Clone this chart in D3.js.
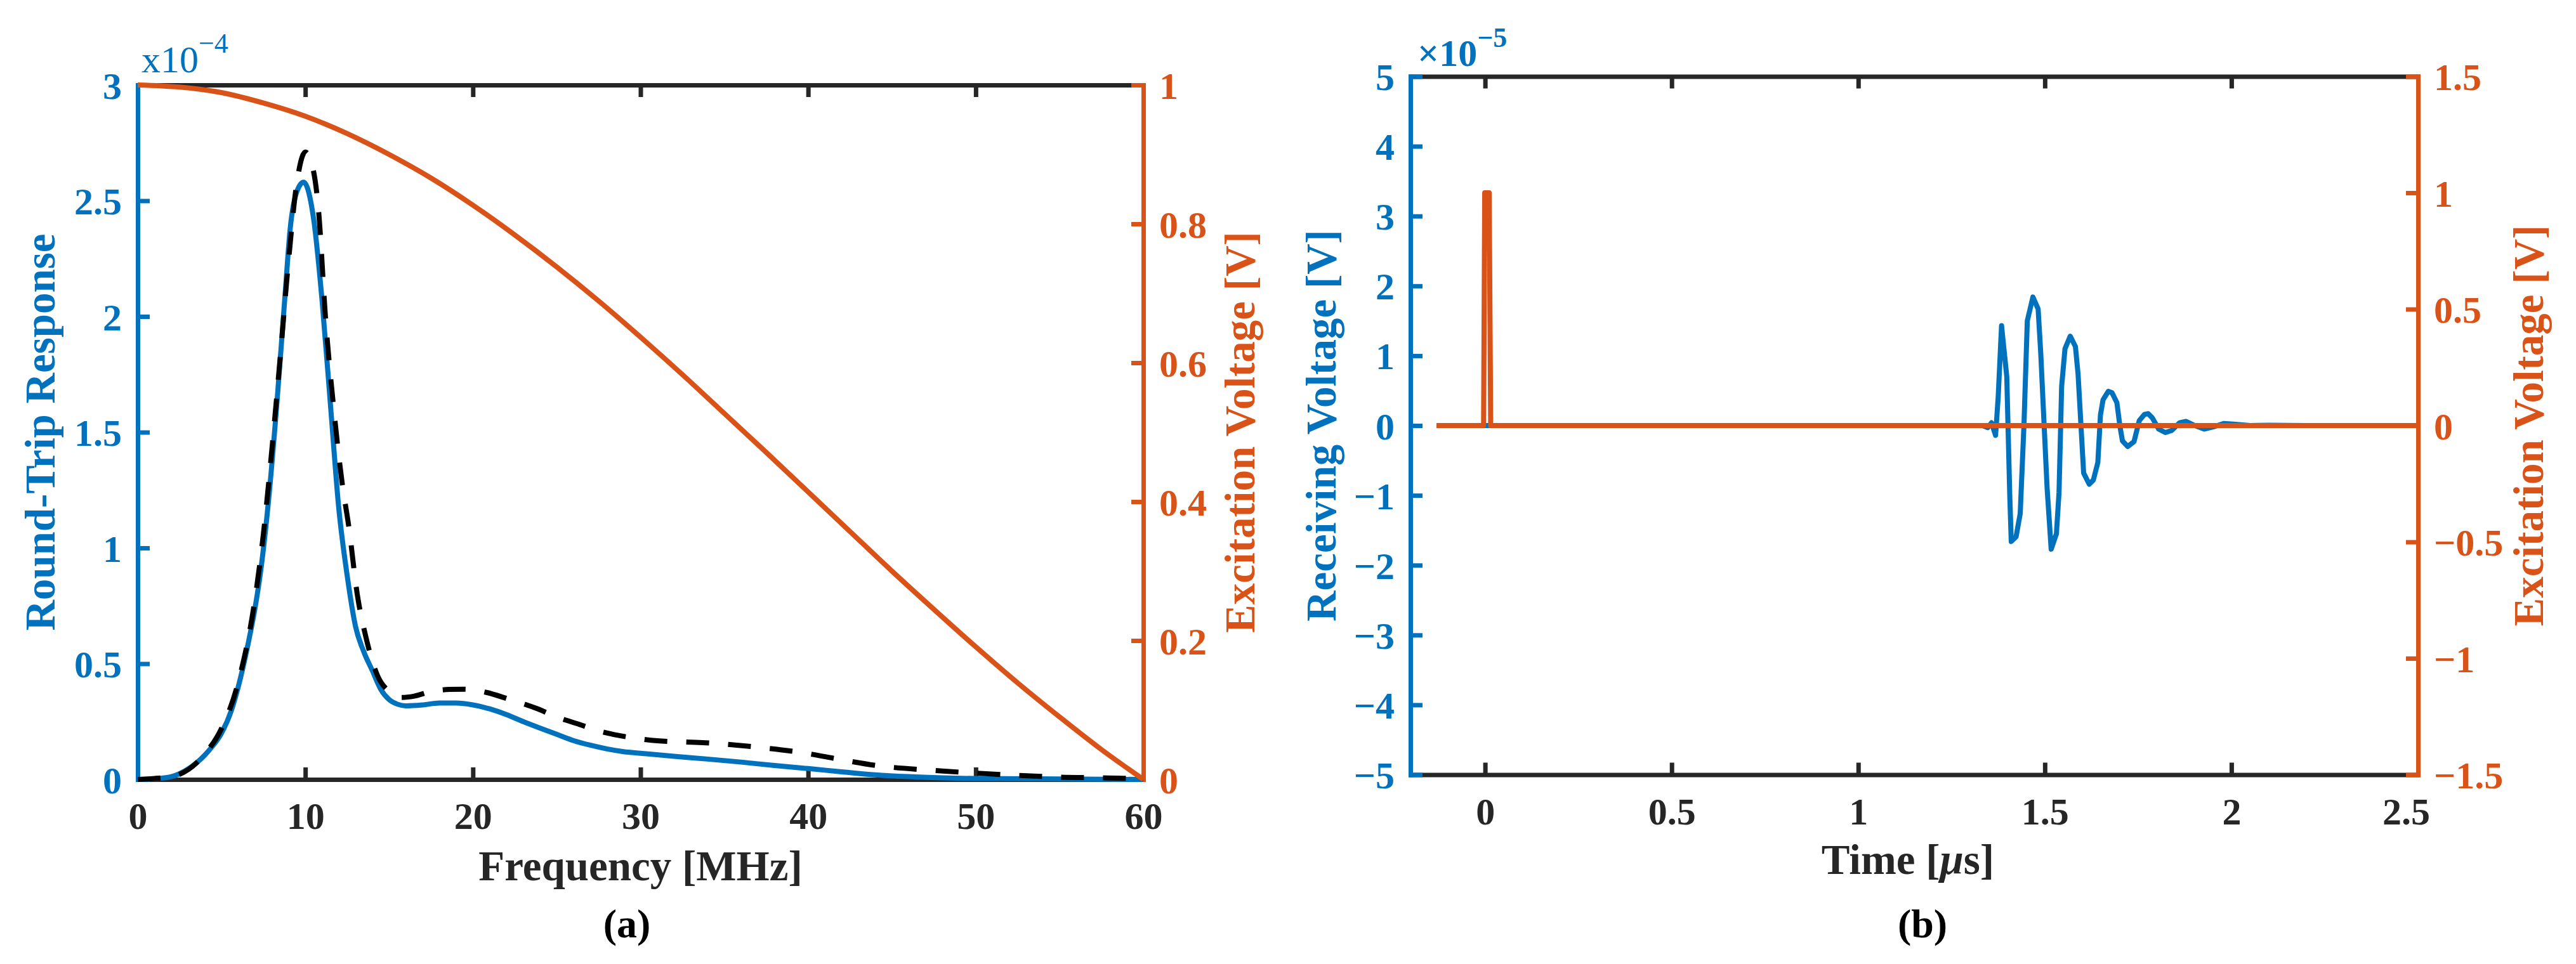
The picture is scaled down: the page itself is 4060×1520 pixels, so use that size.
<!DOCTYPE html>
<html>
<head>
<meta charset="utf-8">
<script src="https://cdn.jsdelivr.net/npm/d3@7"></script>
<style>
  body { margin: 0; background: #fff; }
</style>
</head>
<body>
<div id="vis-container"></div>
<script>

// ---- panel (a): round-trip response (x1e-4) and excitation spectrum ----
const freqSim = [0, 1, 2, 3, 4, 4.4, 5, 5.6, 6, 6.6, 7, 7.3, 7.8, 8.3, 8.8, 9.1, 9.5, 9.9, 10.5, 11, 11.5, 12, 12.5, 13, 13.5, 14, 14.5, 15, 15.5, 16, 17, 18, 19, 20, 21, 22, 23, 24, 25, 26, 27, 28, 29, 30, 32, 34, 36, 38, 40, 42, 44, 46, 48, 50, 55, 60];
const respSim = [0, 0.003, 0.012, 0.045, 0.105, 0.138, 0.2, 0.3, 0.4, 0.59, 0.74, 0.88, 1.2, 1.62, 2.1, 2.38, 2.54, 2.58, 2.42, 2.07, 1.62, 1.17, 0.88, 0.66, 0.55, 0.47, 0.39, 0.345, 0.325, 0.318, 0.322, 0.33, 0.33, 0.322, 0.305, 0.28, 0.25, 0.222, 0.195, 0.168, 0.148, 0.132, 0.12, 0.113, 0.1, 0.088, 0.075, 0.06, 0.047, 0.033, 0.02, 0.012, 0.007, 0.004, 0.002, 0];

const freqRef = [0, 2, 4, 5, 6, 7, 7.5, 8, 8.5, 9, 9.5, 10, 10.3, 10.8, 11.2, 11.7, 12.2, 12.6, 13.1, 13.6, 14.3, 15, 15.7, 16.5, 17.5, 18.6, 19.5, 20.8, 22, 23.9, 25, 26.3, 27.5, 28.7, 30, 31, 33.7, 36.9, 39.8, 42, 44.1, 47.5, 50.6, 55, 58.8, 60];
const respRef = [0, 0.012, 0.11, 0.22, 0.42, 0.78, 1.06, 1.42, 1.82, 2.24, 2.58, 2.71, 2.68, 2.45, 2.0, 1.6, 1.28, 1.09, 0.8, 0.62, 0.45, 0.38, 0.354, 0.36, 0.38, 0.389, 0.39, 0.376, 0.35, 0.304, 0.27, 0.239, 0.21, 0.19, 0.175, 0.167, 0.159, 0.14, 0.114, 0.085, 0.06, 0.039, 0.025, 0.01, 0.005, 0];

const freqExc = [0, 2.5, 5, 7.5, 10, 12.5, 15, 17.5, 20, 22.5, 25, 27.5, 30, 32.5, 35, 37.5, 40, 42.5, 45, 47.5, 50, 52.5, 55, 57.5, 60];
const excSpectrum = [1, 0.997, 0.989, 0.974, 0.955, 0.93, 0.9, 0.866, 0.827, 0.784, 0.738, 0.689, 0.637, 0.583, 0.527, 0.471, 0.414, 0.357, 0.3, 0.245, 0.191, 0.139, 0.09, 0.043, 0];

const freqTicks = [0, 10, 20, 30, 40, 50, 60];
const respTicks = [0, 0.5, 1, 1.5, 2, 2.5, 3];
const excTicks = [0, 0.2, 0.4, 0.6, 0.8, 1];

// ---- panel (b): receiving voltage (x1e-5) and excitation pulse ----
const timeRx = [-0.13, 1.333, 1.347, 1.357, 1.368, 1.375, 1.384, 1.398, 1.406, 1.41, 1.423, 1.434, 1.444, 1.453, 1.468, 1.482, 1.489, 1.506, 1.517, 1.531, 1.538, 1.545, 1.554, 1.568, 1.582, 1.589, 1.604, 1.619, 1.63, 1.642, 1.649, 1.656, 1.67, 1.68, 1.693, 1.701, 1.708, 1.722, 1.739, 1.753, 1.767, 1.777, 1.788, 1.805, 1.823, 1.84, 1.861, 1.878, 1.902, 1.927, 1.951, 1.979, 2.005, 2.05, 2.1, 2.2, 2.5];
const rxVoltage = [0, 0, -0.03, 0.04, -0.14, 0.41, 1.43, 0.7, -1.0, -1.66, -1.59, -1.26, 0, 1.5, 1.84, 1.67, 1.04, -0.89, -1.77, -1.55, -0.96, 0.56, 1.1, 1.28, 1.13, 0.74, -0.68, -0.84, -0.78, -0.53, 0.15, 0.37, 0.49, 0.47, 0.33, 0, -0.22, -0.3, -0.23, 0.07, 0.16, 0.17, 0.11, -0.05, -0.1, -0.07, 0.04, 0.06, 0, -0.05, -0.02, 0.03, 0.02, 0, 0.005, 0, 0];

const timeTx = [-0.13, -0.004, -0.001, 0.011, 0.015, 2.5];
const txVoltage = [0, 0, 1, 1, 0, 0];

const timeTicks = [0, 0.5, 1, 1.5, 2, 2.5];
const rxTicks = [-5, -4, -3, -2, -1, 0, 1, 2, 3, 4, 5];
const txTicks = [-1.5, -1, -0.5, 0, 0.5, 1, 1.5];


const width = 4060;
const height = 1520;
const FONT = '"Times New Roman", "Liberation Serif", serif';
const BLUE = "#0072BD";
const ORANGE = "#D95319";
const DARK = "#262626";
const TICK = 19;

const svg = d3.select("#vis-container")
    .append("svg")
    .attr("width", width)
    .attr("height", height)
    .style("font-family", FONT)
    .style("font-weight", "bold");

const fmt = d3.format("~g");

function styleAxis(g, color) {
    g.select(".domain")
        .attr("stroke", color)
        .attr("stroke-width", 7)
        .attr("stroke-linecap", "square");
    g.selectAll(".tick line")
        .attr("stroke", color)
        .attr("stroke-width", 7);
    g.selectAll(".tick text")
        .attr("fill", color)
        .style("font-size", "60px")
        .style("font-family", FONT)
        .style("font-weight", "bold");
}

function drawPanel(box, xDomain, yLeftDomain, yRightDomain, ticks) {
    const x = d3.scaleLinear().domain(xDomain).range([box.left, box.right]);
    const yL = d3.scaleLinear().domain(yLeftDomain).range([box.bottom, box.top]);
    const yR = d3.scaleLinear().domain(yRightDomain).range([box.bottom, box.top]);

    // box top and bottom first, coloured y axes go over them
    svg.append("g")
        .attr("transform", `translate(0, ${box.top})`)
        .call(d3.axisTop(x).tickValues(ticks.x).tickSizeInner(-TICK).tickSizeOuter(0).tickFormat(""))
        .call(g => styleAxis(g, DARK));

    const bottom = svg.append("g")
        .attr("transform", `translate(0, ${box.bottom})`)
        .call(d3.axisBottom(x).tickValues(ticks.x).tickSizeInner(-TICK).tickSizeOuter(0).tickFormat(fmt))
        .call(g => styleAxis(g, DARK));
    bottom.selectAll(".tick text").attr("y", 78).attr("dy", null);

    svg.append("g")
        .attr("transform", `translate(${box.left}, 0)`)
        .call(d3.axisLeft(yL).tickValues(ticks.yL).tickSizeInner(-TICK).tickSizeOuter(0).tickFormat(fmt))
        .call(g => styleAxis(g, BLUE))
        .selectAll(".tick text").attr("x", -25).attr("dy", "0.35em");

    svg.append("g")
        .attr("transform", `translate(${box.right}, 0)`)
        .call(d3.axisRight(yR).tickValues(ticks.yR).tickSizeInner(-TICK).tickSizeOuter(0).tickFormat(fmt))
        .call(g => styleAxis(g, ORANGE))
        .selectAll(".tick text").attr("x", 25).attr("dy", "0.35em");

    return { x, yL, yR, bottom };
}

function drawLine(xs, ys, x, y, color, curve, dash) {
    const pts = xs.map((d, i) => [d, ys[i]]);
    svg.append("path")
        .datum(pts)
        .attr("fill", "none")
        .attr("stroke", color)
        .attr("stroke-width", 8)
        .attr("stroke-linejoin", "round")
        .attr("stroke-dasharray", dash || null)
        .attr("d", d3.line()
            .x(d => x(d[0]))
            .y(d => y(d[1]))
            .curve(curve));
}

function yLabel(text, xPos, yMid, color) {
    svg.append("text")
        .attr("transform", `translate(${xPos}, ${yMid}) rotate(-90)`)
        .attr("text-anchor", "middle")
        .attr("fill", color)
        .style("font-size", "67px")
        .text(text);
}


// ---------- panel (a) ----------
const boxA = { left: 217, right: 1802, top: 134, bottom: 1229 };
const a = drawPanel(boxA, [0, 60], [0, 3], [0, 1], { x: freqTicks, yL: respTicks, yR: excTicks });

drawLine(freqSim, respSim, a.x, a.yL, BLUE, d3.curveMonotoneX);
drawLine(freqRef, respRef, a.x, a.yL, "#000", d3.curveMonotoneX, "36,30");
drawLine(freqExc, excSpectrum, a.x, a.yR, ORANGE, d3.curveMonotoneX);

yLabel("Round-Trip Response", 86, (boxA.top + boxA.bottom) / 2, BLUE);
yLabel("Excitation Voltage [V]", 1977, (boxA.top + boxA.bottom) / 2, ORANGE);

svg.append("text")
    .attr("x", (boxA.left + boxA.right) / 2)
    .attr("y", 1388)
    .attr("text-anchor", "middle")
    .attr("fill", DARK)
    .style("font-size", "67px")
    .text("Frequency [MHz]");

const expA = svg.append("text")
    .attr("x", 223)
    .attr("y", 114)
    .attr("fill", BLUE)
    .style("font-weight", "normal")
    .style("font-size", "60px");
expA.append("tspan").text("x10");
expA.append("tspan").attr("dy", -31).style("font-size", "44px").text("\u22124");

svg.append("text")
    .attr("x", 988)
    .attr("y", 1478)
    .attr("text-anchor", "middle")
    .attr("fill", "#000")
    .style("font-size", "64px")
    .text("(a)");


// ---------- panel (b) ----------
const boxB = { left: 2223, right: 3811, top: 120.5, bottom: 1221.5 };
const b = drawPanel(boxB, [-0.2, 2.5], [-5, 5], [-1.5, 1.5], { x: timeTicks, yL: rxTicks, yR: txTicks });
b.bottom.selectAll(".tick text").filter(d => d === 2.5).attr("dx", -19);

drawLine(timeRx, rxVoltage, b.x, b.yL, BLUE, d3.curveLinear);
drawLine(timeTx, txVoltage, b.x, b.yR, ORANGE, d3.curveLinear);

yLabel("Receiving Voltage [V]", 2105, (boxB.top + boxB.bottom) / 2, BLUE);
yLabel("Excitation Voltage [V]", 4008, (boxB.top + boxB.bottom) / 2, ORANGE);

const timeLabel = svg.append("text")
    .attr("x", 3007)
    .attr("y", 1378)
    .attr("text-anchor", "middle")
    .attr("fill", DARK)
    .style("font-size", "67px");
timeLabel.append("tspan").text("Time [");
timeLabel.append("tspan").style("font-style", "italic").text("\u03bc");
timeLabel.append("tspan").text("s]");

const expB = svg.append("text")
    .attr("x", 2234)
    .attr("y", 104)
    .attr("fill", BLUE)
    .style("font-size", "60px");
expB.append("tspan").text("\u00d710");
expB.append("tspan").attr("dy", -30).style("font-size", "44px").text("\u22125");

svg.append("text")
    .attr("x", 3030)
    .attr("y", 1478)
    .attr("text-anchor", "middle")
    .attr("fill", "#000")
    .style("font-size", "64px")
    .text("(b)");

</script>
</body>
</html>
